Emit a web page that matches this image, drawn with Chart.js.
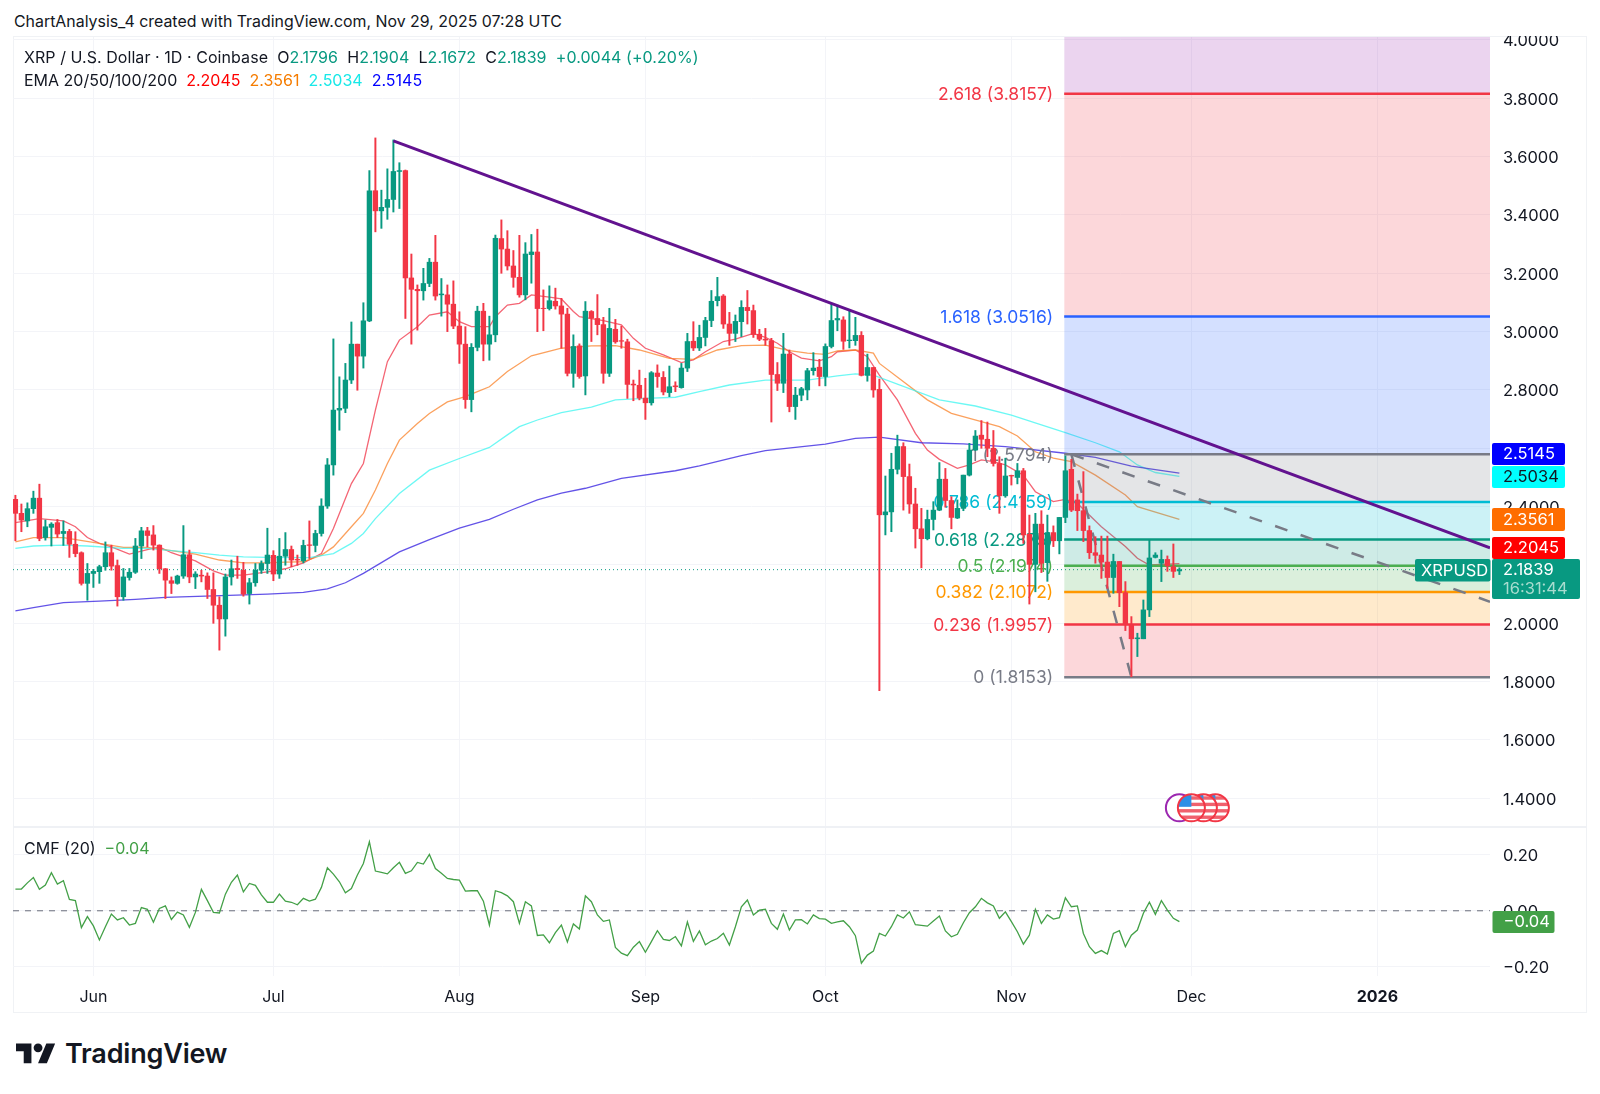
<!DOCTYPE html>
<html>
<head>
<meta charset="utf-8">
<title>XRP / U.S. Dollar</title>
<script src="https://cdn.jsdelivr.net/npm/chart.js@4"></script>
<style>
  html, body { margin: 0; padding: 0; background: #fff; }
  body { width: 1600px; height: 1094px; position: relative; overflow: hidden; font-family: Inter, sans-serif; color: #131722; }
  canvas { position: absolute; left: 0; }
  #frame { position: absolute; left: 13px; top: 36px; width: 1574px; height: 977px; border: 1px solid #f0f2f5; box-sizing: border-box; }
  #sep { position: absolute; left: 13px; top: 826px; width: 1574px; height: 2px; background: #eff1f5; }
  #head { position: absolute; left: 0; top: 0; width: 1600px; height: 36px; background: #fff; z-index: 5; }
  #title { position: absolute; left: 14px; top: 12px; font-size: 15.9px; line-height: 20px; white-space: pre; }
  .leg { position: absolute; left: 24px; font-size: 16px; line-height: 20px; white-space: pre; z-index: 4; }
  .g { color: #089981; }
  #logo { position: absolute; left: 16px; top: 1038.6px; width: 39.7px; height: 30.9px; }
  #logotext { position: absolute; left: 65px; top: 1037px; font-size: 27px; line-height: 34px; font-weight: 600; letter-spacing: -0.2px; }
</style>
</head>
<body>
<div id="frame"></div>
<canvas id="price" width="1600" height="827" style="top:0"></canvas>
<canvas id="cmf" width="1600" height="186" style="top:827px"></canvas>
<div id="sep"></div>
<div id="head"><div id="title">ChartAnalysis_4 created with TradingView.com, Nov 29, 2025 07:28 UTC</div></div>
<div class="leg" style="top:47px;letter-spacing:.06px">XRP / U.S. Dollar · 1D · Coinbase  O<span class="g">2.1796</span>  H<span class="g">2.1904</span>  L<span class="g">2.1672</span>  C<span class="g">2.1839</span>  <span class="g">+0.0044 (+0.20%)</span></div>
<div class="leg" style="top:70px">EMA 20/50/100/200  <span style="color:#ff0000">2.2045</span>  <span style="color:#f57c00">2.3561</span>  <span style="color:#18e8e8">2.5034</span>  <span style="color:#0000ff">2.5145</span></div>
<div class="leg" style="top:838px">CMF (20)  <span style="color:#43a047">−0.04</span></div>
<svg id="logo" viewBox="0 0 36 28" fill="#131722"><path d="M14 22H7V11H0V4h14v18zM28 22h-8l7.5-18h8L28 22z"/><circle cx="20" cy="8" r="4"/></svg>
<div id="logotext">TradingView</div>

<script>
// Candles, one per day, first one is 19 May (day -13, day 0 = 1 Jun)
const firstDay = -13;
const opens = [2.425,2.377,2.351,2.393,2.429,2.294,2.329,2.345,2.308,2.315,
  2.271,2.242,2.137,2.171,2.177,2.194,2.242,2.198,2.091,2.157,
  2.175,2.265,2.317,2.303,2.268,2.187,2.146,2.137,2.162,2.235,
  2.159,2.165,2.162,2.116,2.062,2.015,2.159,2.188,2.182,2.102,
  2.139,2.182,2.205,2.233,2.169,2.230,2.253,2.219,2.214,2.269,
  2.267,2.308,2.402,2.543,2.731,2.737,2.834,2.957,2.916,3.037,
  3.483,3.414,3.426,3.453,3.549,3.552,3.184,3.145,3.140,3.165,
  3.238,3.126,3.126,3.094,3.019,2.957,2.767,2.946,3.070,2.957,
  2.989,3.319,3.283,3.225,3.186,3.126,3.264,3.273,3.080,3.079,
  3.104,3.088,3.060,2.857,2.951,2.848,3.069,3.045,3.024,2.857,
  3.008,2.969,2.965,2.820,2.816,2.772,2.756,2.858,2.843,2.791,
  2.814,2.808,2.875,2.967,2.944,2.980,3.038,3.106,3.122,3.026,
  2.994,3.034,3.083,3.072,2.991,2.974,2.969,2.853,2.823,2.923,
  2.743,2.782,2.800,2.866,2.878,2.846,2.949,3.040,3.040,2.969,
  2.969,2.987,2.850,2.877,2.802,2.372,2.382,2.528,2.606,2.503,
  2.409,2.324,2.290,2.356,2.388,2.494,2.421,2.361,2.394,2.508,
  2.594,2.645,2.631,2.600,2.548,2.437,2.507,2.500,2.523,2.305,
  2.202,2.340,2.208,2.311,2.283,2.363,2.528,2.423,2.386,2.318,
  2.242,2.234,2.210,2.157,2.212,2.105,1.995,1.947,1.947,2.046,
  2.226,2.206,2.219,2.194,2.1796];
const highs = [2.439,2.409,2.413,2.453,2.477,2.354,2.345,2.356,2.351,2.322,
  2.314,2.245,2.205,2.185,2.199,2.279,2.268,2.217,2.188,2.188,
  2.291,2.329,2.329,2.335,2.269,2.188,2.159,2.165,2.335,2.251,
  2.177,2.182,2.173,2.173,2.091,2.169,2.217,2.230,2.209,2.154,
  2.205,2.214,2.326,2.249,2.291,2.311,2.265,2.234,2.285,2.351,
  2.319,2.427,2.565,2.975,2.845,2.891,3.033,2.957,3.099,3.552,
  3.664,3.485,3.558,3.657,3.579,3.554,3.266,3.160,3.217,3.251,
  3.330,3.182,3.160,3.174,3.068,3.017,2.959,3.087,3.097,3.053,
  3.331,3.383,3.346,3.278,3.330,3.305,3.333,3.351,3.143,3.157,
  3.149,3.114,3.080,2.989,2.958,3.103,3.072,3.127,3.049,3.080,
  3.042,3.019,2.974,2.834,2.868,2.840,2.863,2.886,2.863,2.882,
  2.828,2.891,2.994,3.034,3.022,3.049,3.141,3.186,3.127,3.066,
  3.057,3.106,3.141,3.091,3.008,3.011,2.977,2.894,2.994,2.937,
  2.809,2.809,2.874,2.928,2.905,2.958,3.097,3.091,3.051,3.072,
  3.049,3.000,2.923,2.877,2.837,2.505,2.583,2.645,2.619,2.546,
  2.463,2.394,2.388,2.417,2.551,2.531,2.434,2.423,2.508,2.617,
  2.661,2.695,2.690,2.661,2.571,2.566,2.508,2.548,2.531,2.371,
  2.377,2.386,2.371,2.334,2.363,2.574,2.562,2.443,2.520,2.334,
  2.297,2.299,2.299,2.237,2.212,2.143,2.023,1.966,2.080,2.286,
  2.242,2.251,2.231,2.272,2.1904];
const lows = [2.283,2.314,2.331,2.377,2.283,2.285,2.265,2.294,2.267,2.226,
  2.228,2.131,2.079,2.123,2.137,2.182,2.182,2.059,2.079,2.148,
  2.171,2.222,2.262,2.251,2.171,2.085,2.102,2.134,2.154,2.139,
  2.119,2.142,2.085,2.000,1.908,1.956,2.131,2.154,2.093,2.066,
  2.127,2.171,2.171,2.146,2.154,2.199,2.194,2.199,2.207,2.222,
  2.245,2.299,2.394,2.508,2.662,2.722,2.822,2.799,2.875,3.034,
  3.342,3.354,3.385,3.410,3.422,3.045,2.957,3.005,3.108,3.154,
  3.108,3.053,3.000,3.010,2.891,2.737,2.725,2.934,2.900,2.902,
  2.965,3.200,3.211,3.152,3.118,3.109,3.166,3.000,3.003,3.074,
  3.077,2.943,2.848,2.809,2.840,2.783,2.966,2.989,2.823,2.846,
  2.960,2.943,2.771,2.763,2.766,2.699,2.748,2.809,2.783,2.777,
  2.794,2.806,2.863,2.935,2.935,2.951,3.017,3.088,3.011,2.953,
  2.966,2.983,3.026,2.980,2.969,2.953,2.690,2.798,2.791,2.725,
  2.699,2.763,2.766,2.851,2.814,2.814,2.944,3.003,2.939,2.944,
  2.953,2.848,2.830,2.775,1.769,2.303,2.314,2.512,2.388,2.377,
  2.258,2.190,2.286,2.320,2.386,2.398,2.324,2.359,2.386,2.505,
  2.592,2.600,2.571,2.539,2.377,2.432,2.474,2.478,2.274,2.066,
  2.108,2.174,2.144,2.263,2.238,2.345,2.383,2.318,2.280,2.222,
  2.206,2.154,2.120,2.103,2.057,1.975,1.817,1.886,1.947,2.023,
  2.224,2.143,2.178,2.157,2.1672];
const closes = [2.377,2.354,2.393,2.429,2.291,2.331,2.340,2.306,2.315,2.271,
  2.239,2.137,2.171,2.178,2.194,2.242,2.196,2.091,2.159,2.175,
  2.265,2.317,2.301,2.268,2.187,2.148,2.137,2.162,2.235,2.159,
  2.169,2.162,2.116,2.062,2.015,2.159,2.187,2.184,2.100,2.139,
  2.182,2.205,2.234,2.169,2.230,2.253,2.217,2.217,2.267,2.267,
  2.308,2.402,2.543,2.731,2.737,2.834,2.957,2.916,3.037,3.483,
  3.414,3.426,3.453,3.549,3.552,3.184,3.145,3.140,3.165,3.238,
  3.122,3.129,3.094,3.019,2.957,2.767,2.946,3.070,2.957,2.989,
  3.320,3.283,3.225,3.186,3.126,3.266,3.273,3.079,3.079,3.106,
  3.088,3.060,2.857,2.949,2.846,3.070,3.046,3.024,2.857,3.011,
  2.965,2.967,2.819,2.817,2.772,2.756,2.859,2.846,2.793,2.811,
  2.811,2.875,2.966,2.944,2.980,3.038,3.104,3.120,3.026,2.994,
  3.035,3.083,3.072,2.990,2.974,2.971,2.853,2.823,2.923,2.743,
  2.782,2.804,2.866,2.875,2.846,2.949,3.038,3.045,2.967,2.971,
  2.987,2.850,2.877,2.800,2.372,2.382,2.528,2.606,2.503,2.409,
  2.324,2.290,2.356,2.388,2.494,2.421,2.363,2.394,2.508,2.594,
  2.642,2.631,2.600,2.548,2.437,2.505,2.505,2.523,2.303,2.202,
  2.340,2.206,2.311,2.283,2.363,2.523,2.388,2.386,2.318,2.242,
  2.233,2.210,2.157,2.212,2.105,1.995,1.947,1.950,2.046,2.224,
  2.234,2.219,2.197,2.178,2.1839];

// EMA lines at the days listed
const ema20Days = [-13,-9,-5,-3,-1,1,3,6,9,11,13,17,20,22,25,29,32,35,38,40,43,45,47,49,51,54,56,59,61,63,66,67,69,71,73,76,78,80,81,85,88,90,92,95,98,100,102,105,107,110,112,114,116,118,121,123,124,127,129,131,134,137,139,141,144,146,148,150,152,155,157,160,162,164,168,172,174,176,181];
const ema20Values = [2.345,2.359,2.351,2.331,2.294,2.274,2.262,2.237,2.253,2.262,2.242,2.214,2.180,2.165,2.165,2.176,2.187,2.207,2.239,2.325,2.479,2.548,2.731,2.897,2.971,3.017,3.057,3.068,3.034,3.017,3.017,3.051,3.091,3.097,3.126,3.118,3.112,3.069,3.051,3.038,3.023,2.977,2.943,2.920,2.894,2.903,2.931,2.966,2.974,2.994,2.980,2.960,2.931,2.909,2.900,2.914,2.931,2.937,2.914,2.851,2.766,2.651,2.594,2.562,2.531,2.543,2.560,2.554,2.543,2.508,2.451,2.417,2.425,2.411,2.331,2.263,2.223,2.200,2.2045];
const ema50Days = [-13,-10,-5,1,5,9,13,17,21,25,29,32,35,38,40,43,45,47,49,51,54,56,59,62,64,66,69,73,78,83,87,91,96,100,104,108,112,116,119,122,124,127,130,131,139,143,148,151,154,157,160,163,167,172,174,181];
const ema50Values = [2.279,2.294,2.294,2.274,2.260,2.260,2.249,2.237,2.217,2.207,2.207,2.210,2.211,2.234,2.262,2.331,2.377,2.457,2.548,2.628,2.685,2.719,2.759,2.777,2.794,2.811,2.863,2.917,2.943,2.951,2.952,2.937,2.908,2.905,2.937,2.952,2.954,2.935,2.926,2.922,2.934,2.937,2.926,2.891,2.766,2.720,2.691,2.674,2.642,2.588,2.566,2.554,2.508,2.440,2.400,2.3561];
const ema100Days = [-13,-10,-5,-1,5,9,13,17,21,25,29,36,40,43,45,47,51,56,61,66,69,71,74,78,83,87,92,97,101,106,112,119,124,127,130,141,147,153,158,162,167,171,174,177,181];
const ema100Values = [2.257,2.265,2.268,2.265,2.257,2.257,2.249,2.242,2.234,2.228,2.226,2.225,2.239,2.274,2.308,2.359,2.445,2.525,2.565,2.603,2.646,2.674,2.697,2.722,2.741,2.766,2.771,2.775,2.794,2.817,2.834,2.834,2.848,2.855,2.851,2.766,2.745,2.714,2.680,2.654,2.619,2.588,2.543,2.517,2.5034];
const ema200Days = [-13,-10,-5,1,7,12,20,29,35,39,42,45,51,56,61,66,70,74,78,82,88,97,101,108,112,122,127,131,138,145,152,162,167,173,181];
const ema200Values = [2.043,2.054,2.071,2.076,2.082,2.089,2.094,2.100,2.106,2.118,2.139,2.171,2.245,2.287,2.326,2.356,2.391,2.423,2.446,2.463,2.497,2.523,2.540,2.575,2.592,2.614,2.634,2.638,2.619,2.615,2.606,2.583,2.569,2.539,2.5145];

// CMF (20), one value per candle
const cmfValues = [0.077,0.077,0.099,0.118,0.076,0.091,0.135,0.095,0.107,0.040,0.036,-0.060,-0.021,-0.054,-0.104,-0.057,-0.012,-0.033,-0.025,-0.051,
  -0.045,0.011,0.005,-0.041,0.008,0.017,-0.031,-0.005,-0.015,-0.059,-0.006,0.076,0.036,-0.006,-0.008,0.059,0.101,0.127,0.067,0.097,
  0.090,0.056,0.030,0.030,0.059,0.034,0.030,0.021,0.044,0.034,0.041,0.083,0.153,0.130,0.103,0.064,0.079,0.127,0.168,0.245,
  0.141,0.136,0.131,0.153,0.172,0.133,0.142,0.172,0.166,0.200,0.150,0.133,0.115,0.111,0.109,0.070,0.071,0.071,0.034,-0.051,
  0.071,0.064,0.053,0.032,-0.045,0.032,0.017,-0.088,-0.086,-0.114,-0.078,-0.051,-0.111,-0.047,-0.065,0.053,0.032,-0.015,-0.038,-0.033,
  -0.131,-0.151,-0.160,-0.130,-0.110,-0.148,-0.110,-0.071,-0.102,-0.106,-0.092,-0.125,-0.040,-0.109,-0.072,-0.121,-0.108,-0.099,-0.080,-0.122,
  -0.057,0.014,0.038,-0.015,0.002,0.005,-0.045,-0.066,-0.012,-0.069,-0.033,-0.032,-0.047,-0.015,-0.028,-0.030,-0.045,-0.040,-0.036,-0.057,
  -0.089,-0.187,-0.158,-0.144,-0.081,-0.090,-0.057,-0.015,-0.026,-0.004,-0.050,-0.052,-0.055,-0.037,-0.019,-0.072,-0.093,-0.084,-0.043,-0.007,
  0.014,0.044,0.028,0.017,-0.027,-0.004,-0.039,-0.075,-0.119,-0.087,0.005,-0.045,-0.015,-0.030,-0.025,0.046,0.014,0.017,-0.081,-0.128,
  -0.152,-0.142,-0.154,-0.081,-0.071,-0.128,-0.087,-0.069,-0.009,0.030,-0.013,0.036,0.002,-0.027,-0.039];

// Fib levels of the trend based extension
const fibRatios = ['0','0.236','0.382','0.5','0.618','0.786','1','1.618','2.618'];
const fibLevels = [1.8153,1.9957,2.1072,2.1974,2.2875,2.4159,2.5794,3.0516,3.8157];
const fibStartDay = 161.8;

// Drawings
const trendDays = [50, 232.77];
const trendValues = [3.654, 2.259];
const legDays = [163, 173];
const legValues = [2.5794, 1.8153];
const projDays = [163, 232.77];
const projValues = [2.5794, 2.074];

// Axes
const priceTicks = [1.4,1.6,1.8,2.0,2.2,2.4,2.6,2.8,3.0,3.2,3.4,3.6,3.8,4.0];
const hiddenPriceLabels = [2.6, 2.2]; // covered by the axis tags
const cmfTicks = [-0.2,0,0.2];
const monthDays = [0,30,61,92,122,153,183,214];
const monthLabels = ['Jun','Jul','Aug','Sep','Oct','Nov','Dec','2026'];
const eventDays = [181,183,185,187];
const lastPrice = 2.1839;

// Styles
const xMin = -13.4, xMax = 232.77;
const priceMin = 1.3017, priceMax = 4.01;
const cmfMin = -0.2324, cmfMax = 0.2979;
const UP = '#089981', DOWN = '#f23645';
const GRID = '#f3f4f8';
const FONT = 'Inter';
const TICK_SIZE = 16.5;
const fibColors = ['#787b86','#f23645','#ff9800','#4caf50','#089981','#00bcd4','#787b86','#2962ff','#f23645'];
const fibFills = ['rgba(242,54,69,.2)','rgba(255,152,0,.2)','rgba(76,175,80,.2)','rgba(8,153,129,.2)','rgba(0,188,212,.2)','rgba(120,123,134,.2)','rgba(41,98,255,.2)','rgba(242,54,69,.2)','rgba(156,39,176,.2)'];

const days = opens.map((_, i) => firstDay + i);
const isUp = closes.map((c, i) => c >= opens[i]);
const pts = (xs, ys) => xs.map((x, i) => ({ x: x, y: ys[i] }));

function lineSet(label, xs, ys, color, width, order, dash) {
  return {
    type: 'line', label: label, data: pts(xs, ys), borderColor: color, borderWidth: width,
    borderDash: dash || [], pointRadius: 0, tension: 0, fill: false, order: order, borderCapStyle: 'butt'
  };
}

const fibSets = fibLevels.map((lv, i) => ({
  type: 'line', label: 'fib ' + fibRatios[i], data: pts([fibStartDay, xMax], [lv, lv]),
  borderColor: fibColors[i], borderWidth: 2.6, pointRadius: 0, order: 40,
  fill: { value: i < fibLevels.length - 1 ? fibLevels[i + 1] : priceMax }, backgroundColor: fibFills[i]
}));

const wickSet = {
  type: 'bar', label: 'wicks', data: days.map((d, i) => ({ x: d, y: [lows[i], highs[i]] })),
  backgroundColor: isUp.map(u => u ? UP : DOWN), barThickness: 1.3, grouped: false, order: 30
};
const bodySet = {
  type: 'bar', label: 'bodies', data: days.map((d, i) => ({ x: d, y: [opens[i], closes[i]] })),
  backgroundColor: isUp.map(u => u ? UP : DOWN), barThickness: 4.7, grouped: false, order: 20
};

// fib captions go under the candles, right aligned against the band
const fibCaptions = {
  id: 'fibCaptions',
  beforeDatasetDraw(chart, args) {
    if (chart.data.datasets[args.index].label !== 'wicks') return;
    const ctx = chart.ctx, yS = chart.scales.y, xS = chart.scales.x;
    ctx.save();
    ctx.font = '17.5px ' + FONT;
    ctx.textAlign = 'right';
    ctx.textBaseline = 'middle';
    fibLevels.forEach((lv, i) => {
      ctx.fillStyle = fibColors[i];
      ctx.fillText(fibRatios[i] + ' (' + lv.toFixed(4) + ')', xS.getPixelForValue(fibStartDay) - 11, yS.getPixelForValue(lv) + 1);
    });
    ctx.restore();
  }
};

function tag(ctx, x, y, w, h, fill, text, color, inset) {
  ctx.fillStyle = fill;
  ctx.beginPath();
  ctx.roundRect(x, y, w, h, 2);
  ctx.fill();
  if (text) {
    ctx.fillStyle = color;
    ctx.fillText(text, x + (inset || 11), y + h / 2 + 0.5);
  }
}

function flagIcon(ctx, x, y) {
  const r = 13.5;
  ctx.save();
  ctx.beginPath();
  ctx.arc(x, y, r, 0, Math.PI * 2);
  ctx.fillStyle = '#fff';
  ctx.fill();
  ctx.clip();
  ctx.fillStyle = '#f0616d';
  for (let k = 0; k < 4; k++) ctx.fillRect(x - r, y - r + 2 + k * 6.4, r * 2, 3.4);
  ctx.fillStyle = '#2e8fe6';
  ctx.fillRect(x - r, y - r, r, r - 1);
  ctx.restore();
  ctx.beginPath();
  ctx.arc(x, y, r, 0, Math.PI * 2);
  ctx.strokeStyle = '#f23645';
  ctx.lineWidth = 2;
  ctx.stroke();
}

// price tags on the axis and the economic event icons
const priceOverlays = {
  id: 'priceOverlays',
  afterDraw(chart) {
    const ctx = chart.ctx, yS = chart.scales.y, xS = chart.scales.x;
    const iconY = yS.getPixelForValue(1.3675);
    ctx.save();
    ctx.beginPath();
    ctx.arc(xS.getPixelForValue(eventDays[0]), iconY, 13.5, 0, Math.PI * 2);
    ctx.fillStyle = '#fff';
    ctx.fill();
    ctx.strokeStyle = '#9c27b0';
    ctx.lineWidth = 2;
    ctx.stroke();
    for (let i = eventDays.length - 1; i > 0; i--) flagIcon(ctx, xS.getPixelForValue(eventDays[i]), iconY);

    ctx.font = TICK_SIZE + 'px ' + FONT;
    ctx.textAlign = 'left';
    ctx.textBaseline = 'middle';
    tag(ctx, 1492, 443, 73, 22, '#0000ff', '2.5145', '#fff');
    tag(ctx, 1492, 466, 73, 22, '#00ffff', '2.5034', '#131722');
    tag(ctx, 1492, 508, 73, 23, '#ff6d00', '2.3561', '#fff');
    tag(ctx, 1492, 537, 73, 22, '#ff0000', '2.2045', '#fff');
    tag(ctx, 1415, 559, 75.5, 22.5, '#089981', 'XRPUSD', '#fff', 6);
    tag(ctx, 1492, 559, 88, 40, '#089981', '', '');
    ctx.fillStyle = '#fff';
    ctx.fillText(lastPrice.toFixed(4), 1503, 570.5);
    ctx.fillStyle = '#a8dccf';
    ctx.fillText('16:31:44', 1503, 589);
    ctx.restore();
  }
};

const cmfOverlays = {
  id: 'cmfOverlays',
  afterDraw(chart) {
    const ctx = chart.ctx;
    ctx.save();
    ctx.font = TICK_SIZE + 'px ' + FONT;
    ctx.textAlign = 'left';
    ctx.textBaseline = 'middle';
    tag(ctx, 1492.5, 84, 62, 22, '#43a047', '−0.04', '#fff');
    ctx.restore();
  }
};

function xAxis(labels) {
  return {
    type: 'linear', min: xMin, max: xMax, offset: false,
    // bar charts shift grid lines between ticks unless told otherwise
    grid: { color: GRID, drawTicks: false, offset: false },
    border: { display: false },
    afterBuildTicks: s => { s.ticks = monthDays.map(d => ({ value: d })); },
    afterFit: s => { s.height = labels ? 37 : 0; s.paddingLeft = 0; s.paddingRight = 0; },
    ticks: {
      display: labels, padding: 12, maxRotation: 0, autoSkip: false, color: '#131722',
      font: c => ({ family: FONT, size: 16, weight: c.tick && c.tick.value === 214 ? 'bold' : 'normal' }),
      callback: v => monthLabels[monthDays.indexOf(v)]
    }
  };
}

function yAxis(min, max, tickList, fmt) {
  return {
    type: 'linear', position: 'right', min: min, max: max,
    grid: { color: GRID, drawTicks: false },
    border: { display: false },
    afterBuildTicks: s => { s.ticks = tickList.map(v => ({ value: v })); },
    // tick padding would otherwise also be added above and below the plot
    afterFit: s => { s.width = 110; s.paddingTop = 0; s.paddingBottom = 0; },
    ticks: { padding: 13, labelOffset: 1.5, color: '#131722', autoSkip: false, font: { family: FONT, size: TICK_SIZE }, callback: fmt }
  };
}

new Chart(document.getElementById('price'), {
  type: 'bar',
  data: {
    datasets: [
      lineSet('EMA 200', ema200Days, ema200Values, 'rgba(60,40,225,.8)', 1.3, 60),
      lineSet('EMA 100', ema100Days, ema100Values, 'rgba(60,245,240,.75)', 1.3, 60),
      lineSet('EMA 50', ema50Days, ema50Values, 'rgba(250,130,40,.75)', 1.3, 60),
      lineSet('EMA 20', ema20Days, ema20Values, 'rgba(240,50,70,.75)', 1.3, 60),
      lineSet('last', [xMin, xMax], [lastPrice, lastPrice], UP, 1, 55, [1, 3]),
      ...fibSets,
      lineSet('leg', legDays, legValues, '#787b86', 2.5, 35, [13, 14]),
      lineSet('projection', projDays, projValues, '#787b86', 2.5, 35, [13, 14]),
      wickSet,
      bodySet,
      lineSet('trend', trendDays, trendValues, '#62128f', 3, 10)
    ]
  },
  options: {
    responsive: false, animation: false, devicePixelRatio: 1,
    layout: { padding: { left: 13, top: 37, right: 0, bottom: 0 } },
    plugins: { legend: { display: false }, tooltip: { enabled: false } },
    scales: {
      x: xAxis(false),
      y: yAxis(priceMin, priceMax, priceTicks, v => hiddenPriceLabels.includes(v) ? '' : v.toFixed(4))
    }
  },
  plugins: [fibCaptions, priceOverlays]
});

new Chart(document.getElementById('cmf'), {
  type: 'line',
  data: {
    datasets: [
      lineSet('zero', [xMin, xMax], [0, 0], '#8a8d99', 1.3, 2, [6, 6]),
      lineSet('CMF', days, cmfValues, '#43a047', 1.3, 1)
    ]
  },
  options: {
    responsive: false, animation: false, devicePixelRatio: 1,
    layout: { padding: { left: 13, top: 0, right: 0, bottom: 0 } },
    plugins: { legend: { display: false }, tooltip: { enabled: false } },
    scales: {
      x: xAxis(true),
      y: yAxis(cmfMin, cmfMax, cmfTicks, v => (v < 0 ? '−' : '') + Math.abs(v).toFixed(2))
    }
  },
  plugins: [cmfOverlays]
});
</script>
</body>
</html>
